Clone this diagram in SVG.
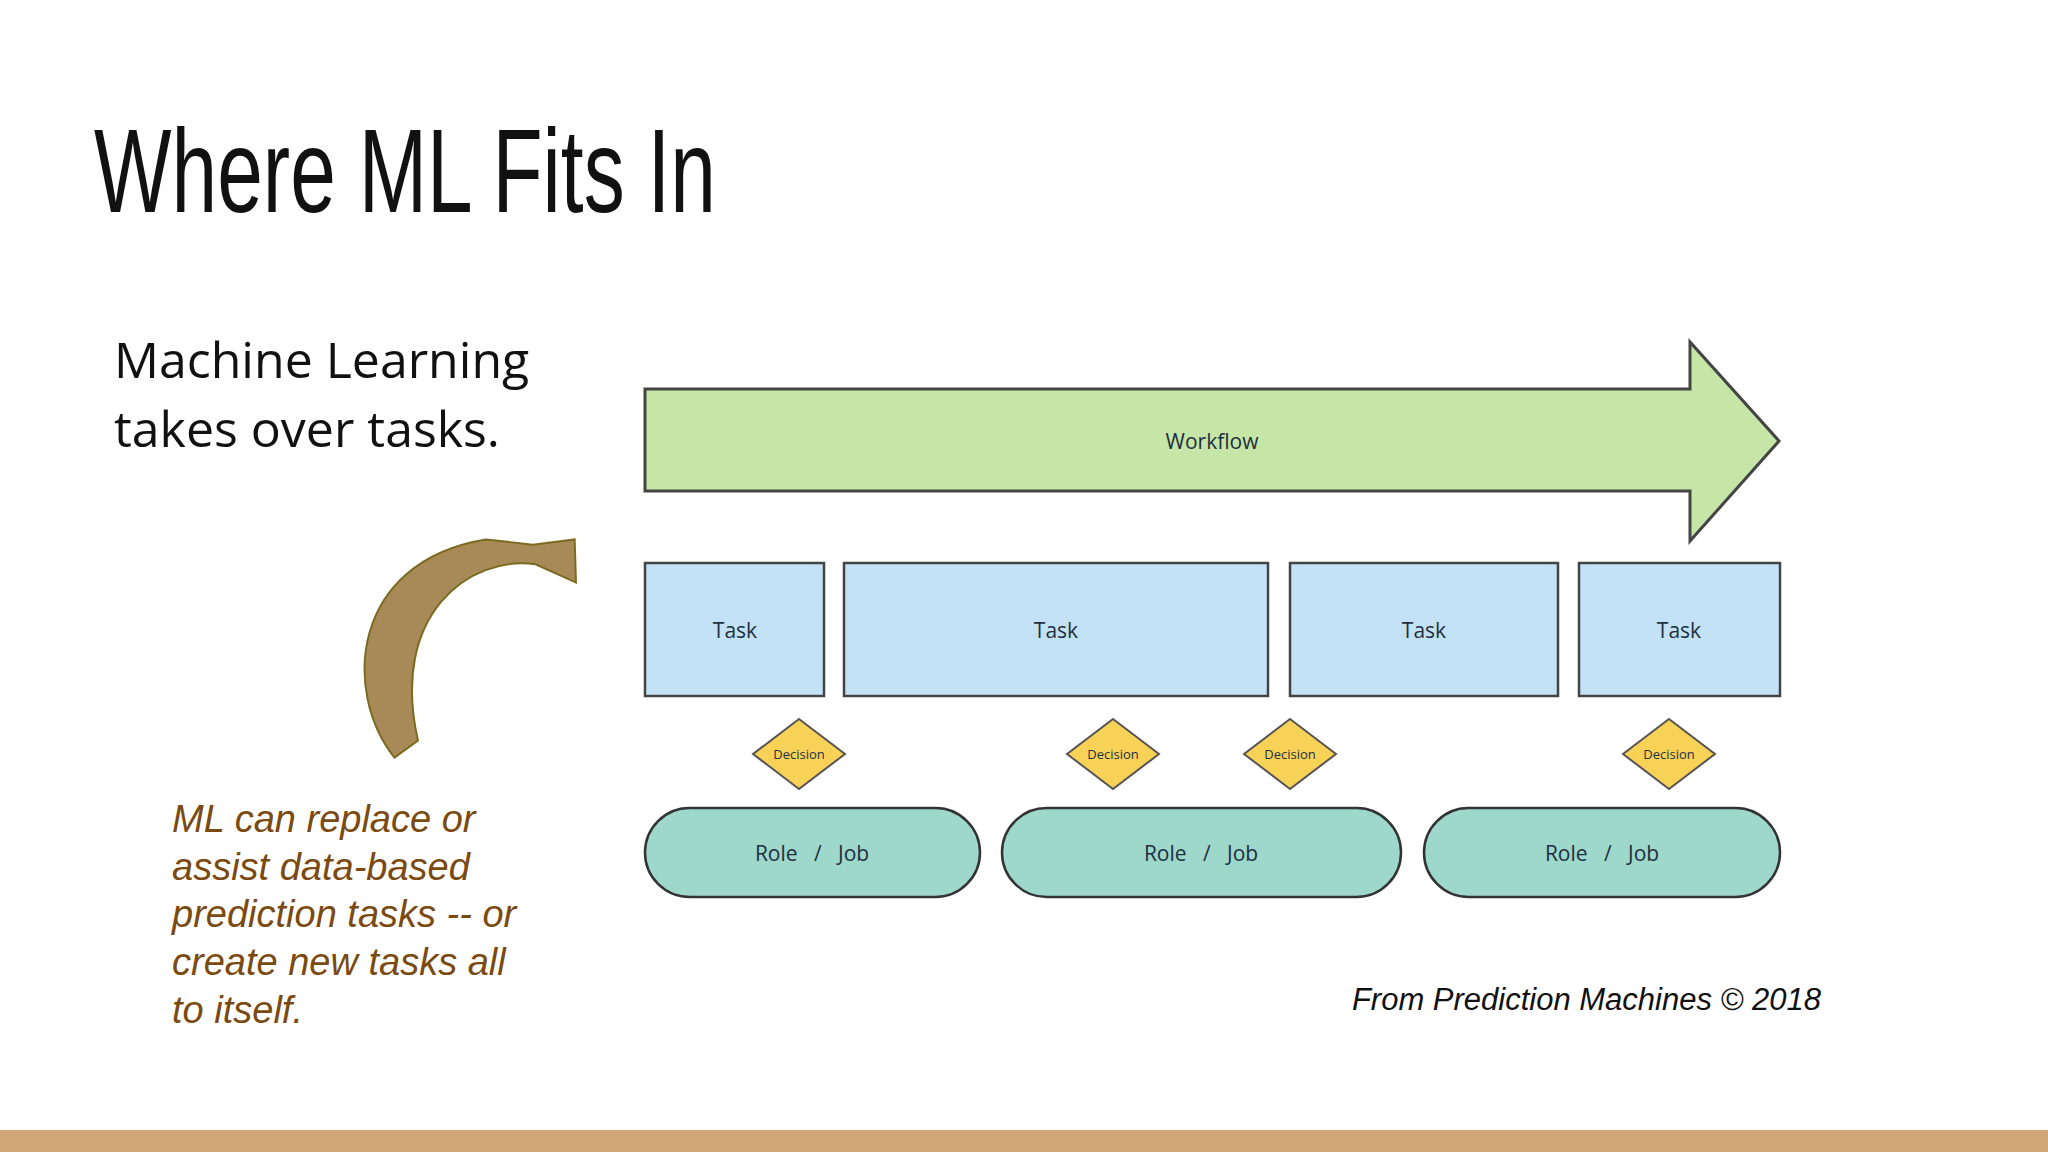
<svg xmlns="http://www.w3.org/2000/svg" width="2048" height="1152" viewBox="0 0 2048 1152">
<style>
.t{font-family:"Open Sans","DejaVu Sans",sans-serif;fill:#1f2f3f;text-anchor:middle}
.task{fill:#c3e2f6;stroke:#444;stroke-width:2.5}
.dec{fill:#f7d257;stroke:#555;stroke-width:2}
.role{fill:#9dd8cb;stroke:#333;stroke-width:2.5}
</style>
<rect width="2048" height="1152" fill="#fff"/>
<rect x="0" y="1130" width="2048" height="22" fill="#d0a676"/>
<text x="94" y="212" font-family="Liberation Sans, sans-serif" font-size="118" textLength="622" lengthAdjust="spacingAndGlyphs" fill="#111">Where ML Fits In</text>
<text font-family="Open Sans, sans-serif" font-size="50" fill="#111"><tspan x="114" y="378">Machine Learning</tspan><tspan x="114" y="447">takes over tasks.</tspan></text>
<text font-family="Liberation Sans, sans-serif" font-style="italic" font-size="38" fill="#7a4a10"><tspan x="172" y="832">ML can replace or</tspan><tspan x="172" y="880">assist data-based</tspan><tspan x="172" y="927">prediction tasks -- or</tspan><tspan x="172" y="975">create new tasks all</tspan><tspan x="172" y="1023">to itself.</tspan></text>
<text x="1821" y="1010" text-anchor="end" font-family="Liberation Sans, sans-serif" font-style="italic" font-size="31" fill="#111">From Prediction Machines © 2018</text>
<g id="ml-arrow" transform="scale(1.3061)">
<path d="M302,580 C262,530 268,430 372,413 L408,417 L440,413 L441,446 L410,432 C360,425 298,470 320,567 Z" fill="#a88a58" stroke="#7a6a20" stroke-width="1.5"/>
</g>
<g id="workflow">
<path d="M645,389 H1690 V342 L1779,441 L1690,541 V491 H645 Z" fill="#c6e6a8" stroke="#444" stroke-width="3"/>
<text class="t" x="1212" y="449" font-size="21">Workflow</text>
</g>
<g id="task1"><rect class="task" x="645" y="563" width="179" height="133"/><text class="t" x="735" y="638" font-size="21">Task</text></g>
<g id="task2"><rect class="task" x="844" y="563" width="424" height="133"/><text class="t" x="1056" y="638" font-size="21">Task</text></g>
<g id="task3"><rect class="task" x="1290" y="563" width="268" height="133"/><text class="t" x="1424" y="638" font-size="21">Task</text></g>
<g id="task4"><rect class="task" x="1579" y="563" width="201" height="133"/><text class="t" x="1679" y="638" font-size="21">Task</text></g>
<g id="dec1"><path class="dec" d="M799,719 L845,754 L799,789 L753,754 Z"/><text class="t" x="799" y="759" font-size="13">Decision</text></g>
<g id="dec2"><path class="dec" d="M1113,719 L1159,754 L1113,789 L1067,754 Z"/><text class="t" x="1113" y="759" font-size="13">Decision</text></g>
<g id="dec3"><path class="dec" d="M1290,719 L1336,754 L1290,789 L1244,754 Z"/><text class="t" x="1290" y="759" font-size="13">Decision</text></g>
<g id="dec4"><path class="dec" d="M1669,719 L1715,754 L1669,789 L1623,754 Z"/><text class="t" x="1669" y="759" font-size="13">Decision</text></g>
<g id="role1"><rect class="role" x="645" y="808" width="335" height="89" rx="44.5"/><text class="t" x="812" y="861" font-size="21" xml:space="preserve">Role   /   Job</text></g>
<g id="role2"><rect class="role" x="1002" y="808" width="399" height="89" rx="44.5"/><text class="t" x="1201" y="861" font-size="21" xml:space="preserve">Role   /   Job</text></g>
<g id="role3"><rect class="role" x="1424" y="808" width="356" height="89" rx="44.5"/><text class="t" x="1602" y="861" font-size="21" xml:space="preserve">Role   /   Job</text></g>
<g id="connectors"></g>
</svg>
